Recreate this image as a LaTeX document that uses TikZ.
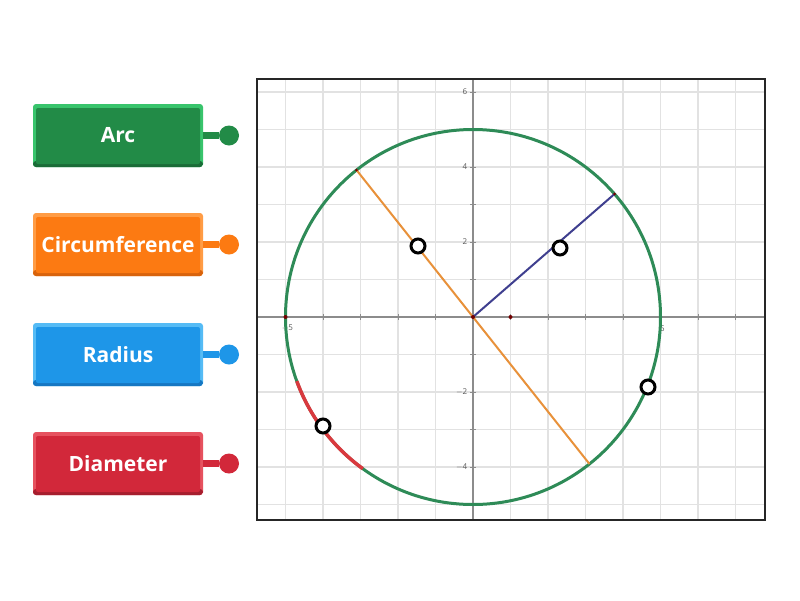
\documentclass[tikz,border=0pt]{standalone}
\usepackage{fontspec}
\setmainfont{Open Sans}
\definecolor{arcL}{HTML}{38C46C}\definecolor{arcM}{HTML}{228B47}\definecolor{arcD}{HTML}{1A6C37}
\definecolor{cirL}{HTML}{FF9C45}\definecolor{cirM}{HTML}{FC7A12}\definecolor{cirD}{HTML}{D8630C}
\definecolor{radL}{HTML}{55BBF5}\definecolor{radM}{HTML}{1E96E8}\definecolor{radD}{HTML}{1677C2}
\definecolor{diaL}{HTML}{E6525F}\definecolor{diaM}{HTML}{D2283A}\definecolor{diaD}{HTML}{A61E2E}
\definecolor{circgreen}{HTML}{2E8B57}
\definecolor{diamorange}{HTML}{E8913A}
\definecolor{radnavy}{HTML}{3F3F8F}
\definecolor{arcred}{HTML}{D9393E}
\definecolor{gridgray}{HTML}{E2E2E2}
\definecolor{axisgray}{HTML}{8C8C8C}
\begin{document}
\begin{tikzpicture}[x=1pt,y=-1pt,
  lblbox/.style args={#1/#2/#3}{rounded corners=3pt, minimum width=170pt, minimum height=63pt,
     inner sep=0pt, text=white, font=\bfseries\fontsize{21}{25}\selectfont, fill=#1,
     path picture={
       \fill[#3] (path picture bounding box.south west) rectangle ([shift={(0pt,6pt)}]path picture bounding box.south east);
       \fill[#2, rounded corners=2pt] ([shift={(3pt,3pt)}]path picture bounding box.south west) rectangle ([shift={(-3pt,-4pt)}]path picture bounding box.north east);}},
  lbldot/.style={circle, fill=#1, minimum size=20pt, inner sep=0pt},
  lblline/.style={#1, line width=7pt},
  marker/.style={circle, draw=black, fill=white, line width=3pt, minimum size=14pt, inner sep=0pt},
  ticklbl/.style={font=\fontsize{8}{9}\selectfont, text=black!65, inner sep=1pt},
  smalldot/.style={circle, fill=#1, minimum size=4pt, inner sep=0pt}
]
\useasboundingbox (0,0) rectangle (800,600);
\fill[white] (0,0) rectangle (800,600);

% graph
\begin{scope}[shift={(473pt,-317pt)}, x=37.5pt, y=37.5pt]
  \begin{scope}
    \clip (-5.76,-5.41) rectangle (7.79,6.35);
    \foreach \k in {-5,...,7} \draw[gridgray, line width=1.5pt] (\k,-5.41) -- (\k,6.35);
    \foreach \k in {-5,...,6} \draw[gridgray, line width=1.5pt] (-5.76,\k) -- (7.79,\k);
    \draw[axisgray, line width=1.6pt] (-5.76,0) -- (7.79,0);
    \draw[axisgray, line width=1.6pt] (0,-5.41) -- (0,6.35);
    \foreach \k in {-5,...,7} \draw[axisgray, line width=1pt] (\k,-0.07) -- (\k,0.07);
    \foreach \k in {-5,...,6} \draw[axisgray, line width=1pt] (-0.07,\k) -- (0.07,\k);
  \end{scope}
  \foreach \v in {6,4,2} \node[ticklbl, anchor=east] at (-0.12,\v) {\v};
  \foreach \v in {2,4} \node[ticklbl, anchor=east] at (-0.12,-\v) {$-$\v};
  \node[ticklbl] (tm5) at (-4.95,-0.3) {$-$5};
  \node[ticklbl] (t5) at (5.05,-0.3) {5};
  \draw[circgreen, line width=3pt] (0,0) circle (5);
  \draw[arcred, line width=3.5pt] (200:5) arc (200:234:5);
  \coordinate (O) at (0,0);
  \coordinate (DA) at (128.4:5);
  \coordinate (DB) at (-51.6:5);
  \coordinate (RA) at (41:5);
  \draw[diamorange, line width=2pt] (DA) -- (DB);
  \draw[radnavy, line width=2pt] (O) -- (RA);
  \node[smalldot=red!45!black] (p0) at (O) {};
  \node[smalldot=red!45!black] (pm5) at (-5,0) {};
  \node[smalldot=red!45!black] (p1) at (1,0) {};
  \node[smalldot=red!45!black, minimum size=3pt] (pda) at (DA) {};
  \node[smalldot=red!45!black, minimum size=3pt] (prb) at (RA) {};
\end{scope}
\draw[black!85, line width=2pt] (257,79) rectangle (765,520);

% hollow markers
\node[marker] (m1) at (418,246) {};
\node[marker] (m2) at (560,248) {};
\node[marker] (m3) at (648,387) {};
\node[marker] (m4) at (323,426) {};

% labels
\node[lblbox=arcL/arcM/arcD] (arc) at (118,135.5) {Arc};
\node[lblbox=cirL/cirM/cirD] (circ) at (118,244.5) {Circumference};
\node[lblbox=radL/radM/radD] (rad) at (118,354.5) {Radius};
\node[lblbox=diaL/diaM/diaD] (diam) at (118,463.5) {Diameter};

\node[lbldot=arcM] (arcdot) at (229,135.5) {};
\node[lbldot=cirM] (circdot) at (229,244.5) {};
\node[lbldot=radM] (raddot) at (229,354.5) {};
\node[lbldot=diaM] (diamdot) at (229,463.5) {};
\draw[lblline=arcM] (arc.east) -- (arcdot);
\draw[lblline=cirM] (circ.east) -- (circdot);
\draw[lblline=radM] (rad.east) -- (raddot);
\draw[lblline=diaM] (diam.east) -- (diamdot);
\end{tikzpicture}
\end{document}
